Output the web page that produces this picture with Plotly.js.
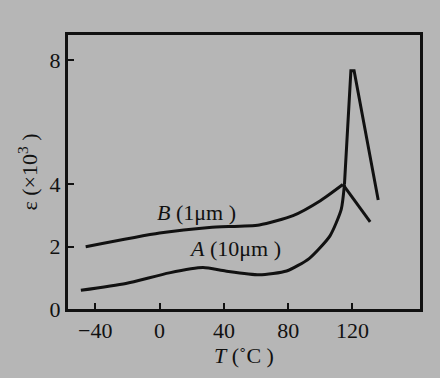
<!DOCTYPE html>
<html>
<head>
<meta charset="utf-8">
<script src="https://cdn.plot.ly/plotly-3.0.1.min.js"></script>
<style>html,body{margin:0;padding:0;background:#b6b6b6;}#chart{width:440px;height:378px;}</style>
</head>
<body>
<div id="chart"></div>
<script>
// Curve A (10 μm): smooth rise, then a sharp spike near 120 °C
var aT = [-49, -21, 6, 27, 41, 62, 79, 93, 106, 113, 115];
var aE = [0.6, 0.82, 1.16, 1.33, 1.22, 1.1, 1.22, 1.62, 2.35, 3.2, 4.0];
var aSpikeT = [115, 119, 121, 136];
var aSpikeE = [4.0, 7.65, 7.65, 3.5];
// Curve B (1 μm)
var bT = [-46, 0, 31, 62, 83, 100, 114];
var bE = [2.0, 2.44, 2.62, 2.7, 3.0, 3.48, 4.0];
var bDropT = [114, 131];
var bDropE = [4.0, 2.8];
var xTicks = [-40, 0, 40, 80, 120];
var xTickText = ['\u221240', '0', '40', '80', '120'];
var yTicks = [0, 2, 4, 8];
var labels = [
  {x: 23, y: 3.1, text: '<i>B</i> (1\u03bcm )'},
  {x: 47, y: 1.93, text: '<i>A</i> (10\u03bcm )'}
];

var smooth = {color: '#111', width: 3, shape: 'spline', smoothing: 0.6};
var sharp = {color: '#111', width: 3, shape: 'linear'};
var traces = [
  {x: aT, y: aE, mode: 'lines', line: smooth, hoverinfo: 'none'},
  {x: aSpikeT, y: aSpikeE, mode: 'lines', line: sharp, hoverinfo: 'none'},
  {x: bT, y: bE, mode: 'lines', line: smooth, hoverinfo: 'none'},
  {x: bDropT, y: bDropE, mode: 'lines', line: sharp, hoverinfo: 'none'}
];
var font = {family: 'Liberation Serif, serif', size: 22, color: '#111'};
var layout = {
  width: 440, height: 378,
  paper_bgcolor: '#b6b6b6', plot_bgcolor: '#b6b6b6',
  margin: {l: 68, r: 20, t: 35, b: 69},
  showlegend: false,
  font: font,
  xaxis: {
    range: [-57, 162], tickvals: xTicks, ticktext: xTickText,
    ticks: 'inside', ticklen: 6, tickwidth: 2, tickcolor: '#111',
    showline: true, mirror: true, linewidth: 3, linecolor: '#111',
    showgrid: false, zeroline: false,
    tickfont: font,
    title: {text: '<i>T</i> (\u02daC )', font: font, standoff: 4}
  },
  yaxis: {
    range: [0, 8.8], tickvals: yTicks,
    ticks: 'inside', ticklen: 6, tickwidth: 2, tickcolor: '#111',
    showline: true, mirror: true, linewidth: 3, linecolor: '#111',
    showgrid: false, zeroline: false,
    tickfont: font,
    title: {text: '\u03b5 (\u00d710<sup>3</sup> )', font: font, standoff: 6}
  },
  annotations: labels.map(function (l) {
    return {x: l.x, y: l.y, xref: 'x', yref: 'y', text: l.text, showarrow: false, font: font};
  })
};
Plotly.newPlot('chart', traces, layout, {staticPlot: true, displayModeBar: false});
</script>
</body>
</html>
